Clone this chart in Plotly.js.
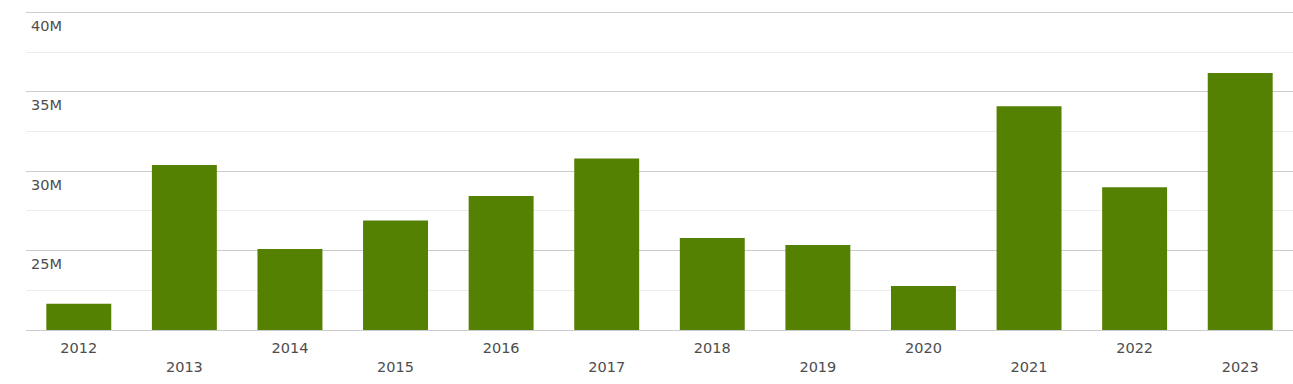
<!DOCTYPE html>
<html>
<head>
<meta charset="utf-8">
<script src="https://cdn.plot.ly/plotly-3.0.1.min.js"></script>
<style>html,body{margin:0;padding:0;background:#fff;}#chart{width:1293px;height:384px;}</style>
</head>
<body>
<div id="chart"></div>
<script>
const years = ["2012","2013","2014","2015","2016","2017","2018","2019","2020","2021","2022","2023"];
const values = [21.66e6, 30.4e6, 25.1e6, 26.9e6, 28.45e6, 30.8e6, 25.8e6, 25.35e6, 22.77e6, 34.1e6, 29.0e6, 36.2e6];
const yTickVals = [25e6, 30e6, 35e6, 40e6];
const yTickText = ["25M", "30M", "35M", "40M"];

const xTickText = years.map((y, i) => i % 2 === 1 ? "<br>" + y : y);

Plotly.newPlot("chart", [{
  type: "bar",
  x: years,
  y: values,
  marker: {color: "#548102"},
  hoverinfo: "x+y"
}], {
  width: 1293,
  height: 384,
  margin: {l: 26, r: 0, t: 11, b: 54},
  paper_bgcolor: "#fff",
  plot_bgcolor: "#fff",
  bargap: 0.385,
  font: {family: "DejaVu Sans", size: 14.5, color: "#4d4d4d"},
  showlegend: false,
  xaxis: {
    type: "category",
    range: [-0.5, 11.5],
    tickvals: years,
    ticktext: xTickText,
    showgrid: false,
    showline: true,
    linecolor: "#ccc",
    linewidth: 1,
    ticks: "",
    ticklabelstandoff: 5,
    tickfont: {size: 14.5, color: "#4d4d4d"}
  },
  yaxis: {
    range: [20e6, 40.1e6],
    tickvals: yTickVals,
    ticktext: yTickText,
    ticklabelposition: "inside bottom",
    ticklabelstandoff: 2,
    ticklabelshift: 3,
    showgrid: true,
    gridcolor: "#ccc",
    gridwidth: 1,
    zeroline: false,
    showline: false,
    ticks: "",
    tickfont: {size: 14.5, color: "#4d4d4d"},
    minor: {dtick: 2.5e6, tick0: 0, showgrid: true, gridcolor: "#ececec", gridwidth: 1, ticks: ""}
  }
}, {displayModeBar: false, staticPlot: true});
</script>
</body>
</html>
